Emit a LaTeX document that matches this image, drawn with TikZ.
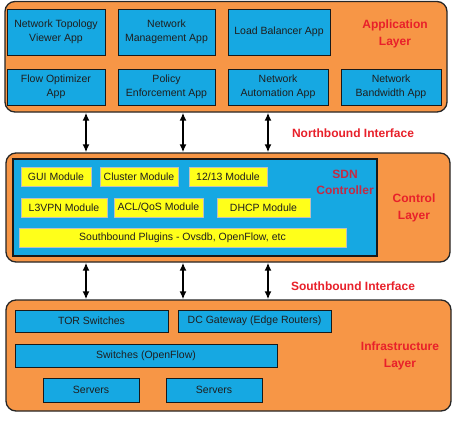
\documentclass[tikz,border=0pt]{standalone}
\usepackage{fontspec}
\setmainfont{Liberation Sans}
\usetikzlibrary{arrows.meta,shadows}
\definecolor{lorange}{HTML}{F79646}
\definecolor{lblue}{HTML}{16A8E2}
\definecolor{lyellow}{HTML}{FFFF1A}
\definecolor{lred}{HTML}{E8202A}
\definecolor{sdnred}{HTML}{C42A44}
\definecolor{txt}{HTML}{1E1E1E}
\newcommand{\bx}[7]{\node[#1, minimum width={(#4-#2)*1pt}, minimum height={(#5-#3)*1pt}] (#6) at ({(#2+#4)/2},{(#3+#5)/2}) {#7};}
\begin{document}
\begin{tikzpicture}[x=1pt,y=-1pt,
  layerbox/.style={draw=black!85, fill=lorange, line width=1.3pt, rounded corners=10pt, inner sep=0pt},
  bluebox/.style={draw=black!90, fill=lblue, line width=1pt, inner sep=0pt, align=center, text=txt,
    font=\fontsize{10.5}{13.5}\selectfont},
  ctlbox/.style={draw=black!90, fill=lblue, line width=1.1pt, inner sep=0pt},
  modbox/.style={fill=lyellow, draw=gray!50, line width=0.4pt, inner sep=0pt, align=center, text=txt,
    font=\fontsize{10.5}{13.5}\selectfont,
    drop shadow={shadow xshift=1.2pt, shadow yshift=-1.2pt, fill=gray!70, opacity=1}},
  laylabel/.style={text=lred, font=\bfseries\fontsize{12}{16.5}\selectfont, align=center, inner sep=0pt},
  iflabel/.style={text=lred, font=\bfseries\fontsize{12}{14}\selectfont, inner sep=0pt},
  sdnlabel/.style={text=sdnred, font=\bfseries\fontsize{12}{16.5}\selectfont, align=center, inner sep=0pt},
  link/.style={{Latex[length=8pt,width=7pt]}-{Latex[length=8pt,width=7pt]}, line width=1.8pt, black}]
\useasboundingbox (0,0) rectangle (474,431);
\fill[white] (0,0) rectangle (474,431);

% Application layer
\bx{layerbox}{5}{1.5}{447}{112}{app}{}
\bx{bluebox}{7}{9}{105}{55}{a1}{Network Topology\\Viewer App}
\bx{bluebox}{118}{9}{215}{55}{a2}{Network\\Management App}
\bx{bluebox}{228}{9}{330}{55}{a3}{Load Balancer App}
\bx{bluebox}{7}{69}{105}{105}{a4}{Flow Optimizer\\App}
\bx{bluebox}{118}{69}{215}{105}{a5}{Policy\\Enforcement App}
\bx{bluebox}{228}{69}{328}{105}{a6}{Network\\Automation App}
\bx{bluebox}{341}{69}{441}{105}{a7}{Network\\Bandwidth App}
\node[laylabel] (applbl) at (395,34) {Application\\Layer};

% Control layer
\bx{layerbox}{6}{153}{450}{262}{ctl}{}
\bx{ctlbox}{13}{159}{377}{256}{sdn}{}
\bx{modbox}{21}{167}{91}{186}{m1}{GUI Module}
\bx{modbox}{100}{167}{178}{186}{m2}{Cluster Module}
\bx{modbox}{189}{167}{267}{186}{m3}{12/13 Module}
\bx{modbox}{21}{198}{107}{217}{m4}{L3VPN Module}
\bx{modbox}{114}{198}{203}{217}{m5}{ACL/QoS Module}
\bx{modbox}{217}{198}{310}{217}{m6}{DHCP Module}
\bx{modbox}{19}{228}{346}{247}{m7}{Southbound Plugins - Ovsdb, OpenFlow, etc}
\node[sdnlabel] (sdnlbl) at (345,182.5) {SDN\\Controller};
\node[laylabel] (ctllbl) at (414,208) {Control\\Layer};

% Infrastructure layer
\bx{layerbox}{6}{300}{451}{411}{infra}{}
\bx{bluebox}{15}{310}{168}{332}{i1}{TOR Switches}
\bx{bluebox}{178}{310}{331}{332}{i2}{DC Gateway (Edge Routers)}
\bx{bluebox}{15}{344}{277}{367}{i3}{Switches (OpenFlow)}
\bx{bluebox}{43}{378}{139}{402}{i4}{Servers}
\bx{bluebox}{166}{378}{262}{402}{i5}{Servers}
\node[laylabel] (infralbl) at (400,356) {Infrastructure\\Layer};

% Interfaces
\node[iflabel] (nb) at (353,133) {Northbound Interface};
\node[iflabel] (sb) at (353,286) {Southbound Interface};

\coordinate (x1) at (86,0);
\coordinate (x2) at (183,0);
\coordinate (x3) at (268,0);
\foreach \c in {x1,x2,x3}{
  \draw[link] (\c |- app.south) -- (\c |- ctl.north);
  \draw[link] (\c |- ctl.south) -- (\c |- infra.north);
}
\end{tikzpicture}
\end{document}
